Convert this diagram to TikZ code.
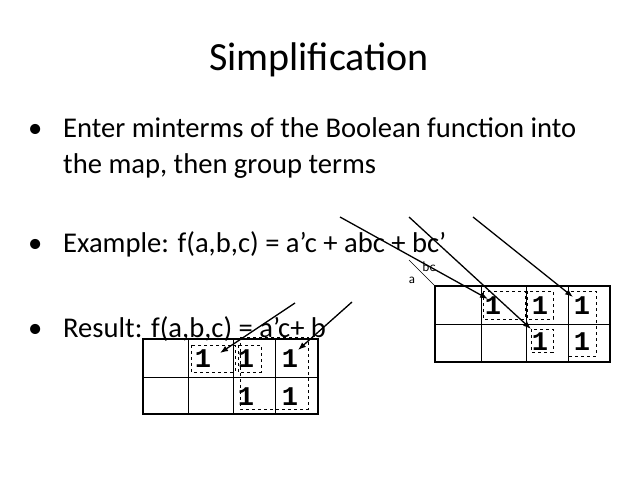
\documentclass[tikz,border=0pt]{standalone}
\usepackage{fontspec}
\setmainfont{Carlito}
\newfontfamily\monof{Liberation Mono}
\usetikzlibrary{arrows.meta}
\begin{document}
\begin{tikzpicture}[x=1pt,y=-1pt,
  txt/.style={anchor=base west,inner sep=0,font=\fontsize{28.6}{32}\selectfont},
  one/.style={inner sep=0,font=\monof\bfseries\fontsize{27}{27}\selectfont},
  grp/.style={dashed,line width=0.6pt},
  arr/.style={line width=1.3pt,-{Latex[length=8pt,width=6pt]}},
  kmap/.style={line width=1.8pt}]
\useasboundingbox (0,0) rectangle (638,478);
\node[inner sep=0,font=\fontsize{40}{46}\selectfont] (title) at (319,60) {Simplification};
\node[txt] (b1) at (28,138) {•};
\node[txt] (t1) at (63,138) {Enter minterms of the Boolean function into};
\node[txt] (t2) at (63,174) {the map, then group terms};
\node[txt] (b2) at (28,253) {•};
\node[txt] (t3) at (63,253) {Example: f(a,b,c) = a’c + abc + bc’};
\node[txt] (b3) at (28,338) {•};
\node[txt] (t4) at (63,338) {Result: f(a,b,c) = a’c+ b};
% right map
\draw[kmap] (435,286) rectangle (610,362);
\draw[line width=0.8pt] (481,286) -- (481,362) (526,286) -- (526,362) (568,286) -- (568,362) (435,324) -- (610,324);
\coordinate (diag) at (409,260);
\draw[line width=0.5pt] (diag) -- (435,286);
\node[inner sep=0,font=\sffamily\fontsize{14}{14}\selectfont] (lbc) at (429,267) {bc};
\node[inner sep=0,font=\sffamily\fontsize{14}{14}\selectfont] (la) at (412,280) {a};
\node[one] (r1) at (493,306) {1};
\node[one] (r2) at (540,306) {1};
\node[one] (r3) at (582,306) {1};
\node[one] (r4) at (540,342) {1};
\node[one] (r5) at (582,342) {1};
\draw[grp] (483,291) rectangle (525,319);
\draw[grp] (527,291) rectangle (553,319);
\draw[grp] (568,291) rectangle (596,356);
\draw[grp] (531,329) rectangle (553,352);
\coordinate (ra1) at (340,217);
\coordinate (ra2) at (409,217);
\coordinate (ra3) at (473,217);
\draw[arr] (ra1) -- (488,299);
\draw[arr] (ra2) -- (531,329);
\draw[arr] (ra3) -- (573,297);
% left map
\draw[kmap] (143,339) rectangle (318,414);
\draw[line width=0.8pt] (188,339) -- (188,414) (233,339) -- (233,414) (275,339) -- (275,414) (143,377) -- (318,377);
\node[one] (l1) at (203,359) {1};
\node[one] (l2) at (246,359) {1};
\node[one] (l3) at (290,359) {1};
\node[one] (l4) at (246,397) {1};
\node[one] (l5) at (290,397) {1};
\draw[grp] (191,345) rectangle (235,372);
\draw[grp] (238,345) rectangle (261,372);
\draw[grp] (240,337) rectangle (308,409);
\coordinate (la1) at (295,303);
\coordinate (la2) at (352,302);
\draw[arr] (la1) -- (220,353);
\draw[arr] (la2) -- (298,350);
\end{tikzpicture}
\end{document}
